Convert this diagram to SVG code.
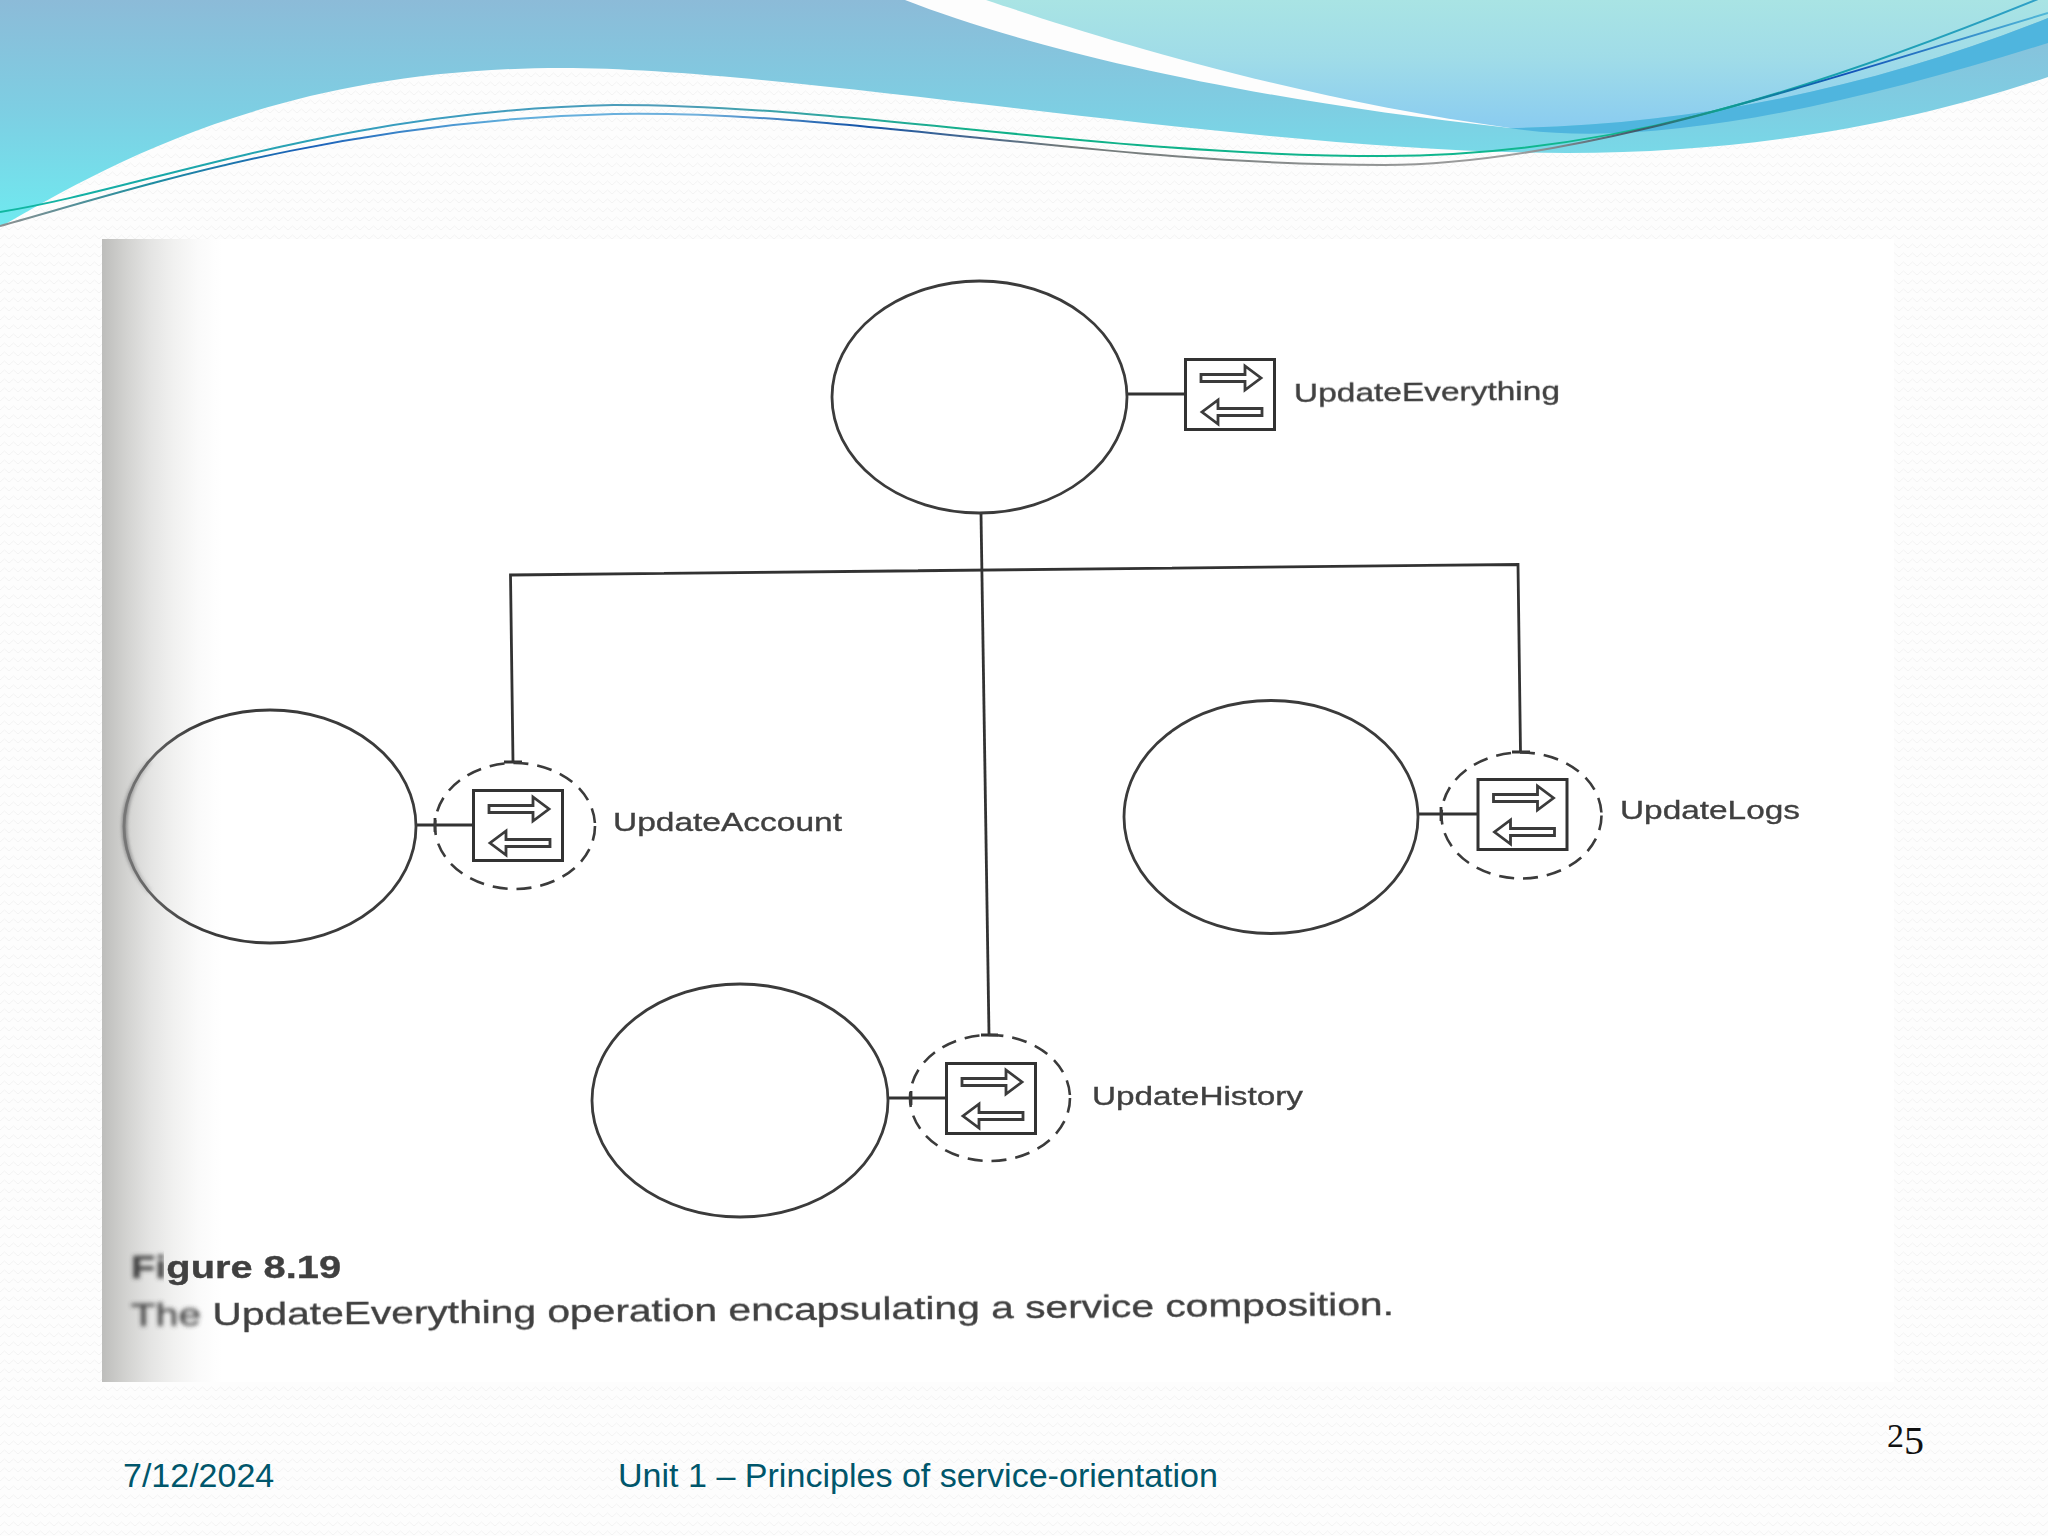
<svg xmlns="http://www.w3.org/2000/svg" xmlns:xlink="http://www.w3.org/1999/xlink" width="2048" height="1536" viewBox="0 0 2048 1536">
<style>
.ln{fill:none;stroke:#333;stroke-width:2.8}
.ell{fill:none;stroke:#3a3a3a;stroke-width:2.8}
.dash{fill:none;stroke:#3a3a3a;stroke-width:2.6;stroke-dasharray:15 9}
.box{fill:#fff;stroke:#333;stroke-width:3}
.arr{fill:#fff;stroke:#3a3a3a;stroke-width:2.8;stroke-linejoin:miter}
.lbl{font-family:"Liberation Sans",Arial,sans-serif;font-size:26px;fill:#404040;stroke:#404040;stroke-width:.35}
.cap{font-family:"Liberation Sans",Arial,sans-serif;font-size:32px;fill:#404040;stroke:#404040;stroke-width:.35}
.foot{font-family:"Liberation Sans",Arial,sans-serif;font-size:34px;fill:#00566b}
.num{font-family:"Liberation Serif","Times New Roman",serif;fill:#111}
</style>
<defs>
<pattern id="tex" width="18" height="18" patternUnits="userSpaceOnUse">
<path d="M0 5L4.500 1L9 5L13.500 1L18 5M0 14L4.500 10L9 14L13.500 10L18 14" fill="none" stroke="#f3f3f3" stroke-width="1"/>
</pattern>
<linearGradient id="gMain" x1="0" y1="0" x2="0" y2="1">
<stop offset="0" stop-color="#8cbbd8"/><stop offset="0.5" stop-color="#7dcfe3"/><stop offset="1" stop-color="#6feaf0"/>
</linearGradient>
<linearGradient id="gLight" x1="0" y1="0" x2="0" y2="1">
<stop offset="0" stop-color="#a9e4e4"/><stop offset="0.45" stop-color="#a0dce8"/><stop offset="1" stop-color="#8accf0"/>
</linearGradient>
<linearGradient id="gA" gradientUnits="userSpaceOnUse" x1="0" y1="0" x2="2048" y2="0">
<stop offset="0" stop-color="#10b8a0"/><stop offset="0.08" stop-color="#18a8a8"/><stop offset="0.2" stop-color="#3a9cc0"/><stop offset="0.33" stop-color="#4f9cb8"/><stop offset="0.48" stop-color="#10b088"/><stop offset="0.8" stop-color="#10b890"/><stop offset="0.9" stop-color="#18a0b0"/><stop offset="1" stop-color="#30a0c8"/>
</linearGradient>
<linearGradient id="gB" gradientUnits="userSpaceOnUse" x1="0" y1="0" x2="2048" y2="0">
<stop offset="0" stop-color="#909090"/><stop offset="0.07" stop-color="#1f8fa0"/><stop offset="0.15" stop-color="#1a60b8"/><stop offset="0.25" stop-color="#60aedc"/><stop offset="0.34" stop-color="#70b0dc"/><stop offset="0.42" stop-color="#1555a8"/><stop offset="0.52" stop-color="#707878"/><stop offset="0.74" stop-color="#a0a0a0"/><stop offset="0.8" stop-color="#405868"/><stop offset="0.84" stop-color="#10a090"/><stop offset="0.9" stop-color="#1050b8"/><stop offset="1" stop-color="#50b8d8"/>
</linearGradient>
<linearGradient id="gShade" x1="0" y1="0" x2="1" y2="0">
<stop offset="0" stop-color="#bdbdbb"/><stop offset="0.2" stop-color="#d2d2d0"/><stop offset="0.4" stop-color="#e4e4e3"/><stop offset="0.6" stop-color="#f1f1f0"/><stop offset="0.8" stop-color="#fafafa"/><stop offset="1" stop-color="#ffffff"/>
</linearGradient>
<linearGradient id="gEll" gradientUnits="userSpaceOnUse" x1="124" y1="0" x2="200" y2="0">
<stop offset="0" stop-color="#777"/><stop offset="1" stop-color="#3a3a3a"/>
</linearGradient>
<linearGradient id="gArc" gradientUnits="userSpaceOnUse" x1="0" y1="745" x2="0" y2="908">
<stop offset="0" stop-color="#909090" stop-opacity="0"/><stop offset="0.4" stop-color="#909090"/><stop offset="0.6" stop-color="#909090"/><stop offset="1" stop-color="#909090" stop-opacity="0"/>
</linearGradient>
<filter id="soft" x="-5%" y="-5%" width="110%" height="110%"><feGaussianBlur stdDeviation="0.6"/></filter>
<filter id="blurL" x="-60%" y="-10%" width="220%" height="120%"><feGaussianBlur stdDeviation="1.8"/></filter>
<filter id="fadeFig" filterUnits="userSpaceOnUse" primitiveUnits="userSpaceOnUse" x="100" y="1230" width="320" height="70">
<feGaussianBlur in="SourceGraphic" stdDeviation="2.2" x="100" y="1230" width="64" height="70" result="a"/>
<feOffset in="SourceGraphic" dx="0" dy="0" x="164" y="1230" width="256" height="70" result="b"/>
<feMerge><feMergeNode in="a"/><feMergeNode in="b"/></feMerge>
</filter>
<filter id="fadeCap" filterUnits="userSpaceOnUse" primitiveUnits="userSpaceOnUse" x="100" y="1280" width="1320" height="70">
<feGaussianBlur in="SourceGraphic" stdDeviation="2.2" x="100" y="1280" width="106" height="70" result="a"/>
<feOffset in="SourceGraphic" dx="0" dy="0" x="206" y="1280" width="1214" height="70" result="b"/>
<feMerge><feMergeNode in="a"/><feMergeNode in="b"/></feMerge>
</filter>
<g id="svc">
<rect class="box" x="0.500" y="0.500" width="89" height="70"/>
<path class="arr" d="M16 15.500H60V7L76 19L60 31V22.500H16Z"/>
<path class="arr" d="M77 49.500H33V41L17 53L33 65V56.500H77Z"/>
</g>
</defs>
<rect id="background" width="2048" height="1536" fill="#fdfdfd"/>
<rect width="2048" height="1536" fill="url(#tex)"/>
<g id="header">
<path d="M0 0H2048V77C1920 120 1760 153 1567 153C1250 153 800 68 562 68C270 68 100 170 0 227Z" fill="url(#gMain)"/>
<path d="M905 0C1020 45 1230 98 1510 128L1530 60L1200 0Z" fill="#fdfdfd"/>
<path d="M986 0H2048V18C1880 85 1700 125 1510 128C1290 98 1090 35 986 0Z" fill="url(#gLight)"/>
<path d="M1510 128C1700 125 1880 85 2048 18V43C1850 105 1650 150 1510 128Z" fill="#4fb5de"/>
<path d="M0 212C140 190 340 110 614 105C850 105 1100 156 1384 156C1600 156 1790 100 2048 -5" fill="none" stroke="url(#gA)" stroke-width="2"/>
<path d="M0 226C130 190 340 120 614 114C850 110 1100 165 1384 165C1570 165 1790 90 2048 13" fill="none" stroke="url(#gB)" stroke-width="2"/>
</g>
<g id="figure">
<rect x="102" y="239" width="1792" height="1143" fill="#fff"/>
<rect x="102" y="239" width="120" height="1143" fill="url(#gShade)"/>
</g>
<g filter="url(#soft)">
<g id="connectors">
<path class="ln" d="M981 513L989 1035"/>
<path class="ln" d="M513 762.500L510.500 575L1518 564.500L1520.500 752"/>
<path class="ln" d="M1127 394H1185"/>
<path class="ln" d="M415 825H473M435 818V832"/>
<path class="ln" d="M1418 814H1478M1441 807V821"/>
<path class="ln" d="M888 1098H946M911 1091V1105"/>
<path class="ln" d="M504 762H522M1512 752H1530M981 1035H998"/>
</g>
<g id="node-update-everything">
<ellipse class="ell" cx="979.500" cy="397" rx="147.500" ry="116"/>
<use href="#svc" xlink:href="#svc" x="1185" y="359"/>
<text class="lbl" x="1294" y="402" textLength="266" lengthAdjust="spacingAndGlyphs" transform="rotate(-0.5 1294 402)">UpdateEverything</text>
</g>
<g id="node-update-account">
<path d="M150 760.500A146 116.500 0 0 0 150 892.500" fill="none" stroke="url(#gArc)" stroke-width="6" filter="url(#blurL)"/>
<ellipse cx="270" cy="826.500" rx="146" ry="116.500" fill="none" stroke="url(#gEll)" stroke-width="2.800"/>
<ellipse cx="515" cy="826" rx="80" ry="63" class="dash"/>
<use href="#svc" xlink:href="#svc" x="473" y="790"/>
<text class="lbl" x="613" y="831" textLength="229" lengthAdjust="spacingAndGlyphs">UpdateAccount</text>
</g>
<g id="node-update-logs">
<ellipse class="ell" cx="1271" cy="817" rx="147" ry="116.500"/>
<ellipse class="dash" cx="1521.500" cy="815.500" rx="80" ry="63"/>
<use href="#svc" xlink:href="#svc" x="1477.500" y="779"/>
<text class="lbl" x="1620" y="819" textLength="180" lengthAdjust="spacingAndGlyphs">UpdateLogs</text>
</g>
<g id="node-update-history">
<ellipse class="ell" cx="740" cy="1100.500" rx="148" ry="116.500"/>
<ellipse class="dash" cx="990" cy="1098" rx="80" ry="63"/>
<use href="#svc" xlink:href="#svc" x="946" y="1063"/>
<text class="lbl" x="1092" y="1105" textLength="211" lengthAdjust="spacingAndGlyphs">UpdateHistory</text>
</g>
<text class="cap" x="131" y="1278" font-weight="700" textLength="210" lengthAdjust="spacingAndGlyphs" filter="url(#fadeFig)">Figure 8.19</text>
<text class="cap" x="131" y="1326" textLength="1263" lengthAdjust="spacingAndGlyphs" transform="rotate(-0.5 131 1326)" filter="url(#fadeCap)">The UpdateEverything operation encapsulating a service composition.</text>
</g>
<g id="footer">
<text class="foot" x="123" y="1487">7/12/2024</text>
<text class="foot" x="618" y="1487" textLength="600" lengthAdjust="spacingAndGlyphs">Unit 1 – Principles of service-orientation</text>
<text class="num" x="1887" y="1447" font-size="34">2<tspan font-size="40" dy="7">5</tspan></text>
</g>
</svg>
